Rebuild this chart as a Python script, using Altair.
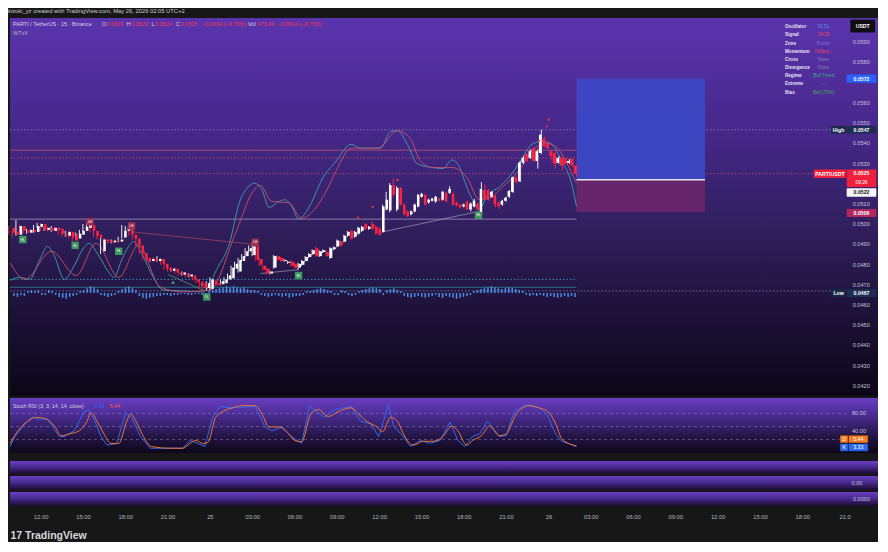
import altair as alt
import pandas as pd

FONT = "Liberation Sans"
W = 868
H_MAIN, H_STOCH, H_P2, H_P3, H_P4 = 378, 55, 13, 14, 14

# hours since 24 May 00:00 ; price ; stoch value
X_DOM = [9.83, 71.37]
P_DOM = [0.04150, 0.06020]
S_DOM = [-11.0, 115.6]
HIST_DOM = [-106, 283]

XS = alt.Scale(domain=X_DOM, nice=False, zero=False)
PY = alt.Scale(domain=P_DOM, nice=False, zero=False)
SY = alt.Scale(domain=S_DOM, nice=False, zero=False)
HS = alt.Scale(domain=HIST_DOM, nice=False, zero=False)

first_candle = 9.75   # 24 May 09:45
bar_step = 0.25       # 15-minute candles

# ---------------- candles (price x 1e-5) ----------------
opens = [4982,4962,4948,4991,4967,4958,4972,4962,4987,5001,
         4972,4982,4967,4982,4977,4953,4943,4962,4948,4929,
         4948,4967,4982,4996,4967,4948,4866,4924,4919,4910,
         4919,4914,4934,4967,4982,4948,4929,4895,4857,4833,
         4818,4828,4818,4828,4804,4785,4770,4780,4761,4751,
         4756,4742,4746,4727,4713,4708,4684,4679,4722,4708,
         4703,4708,4727,4732,4780,4766,4818,4842,4866,4847,
         4890,4828,4794,4780,4756,4785,4842,4833,4818,4809,
         4814,4804,4785,4799,4818,4838,4852,4881,4842,4862,
         4862,4833,4876,4890,4914,4914,4943,4967,4938,4953,
         4967,5001,4977,5001,4987,4977,4962,5073,5068,5193,
         5073,5179,5097,5063,5049,5063,5088,5136,5145,5107,
         5116,5112,5126,5121,5155,5155,5150,5107,5097,5088,
         5112,5073,5088,5102,5054,5169,5169,5136,5140,5107,
         5097,5116,5136,5160,5232,5212,5304,5347,5328,5376,
         5313,5352,5424,5400,5361,5352,5304,5328,5323,5304,
         5323,5290]
closes = [4958,4948,4991,4967,4958,4972,4962,4991,5001,4972,
          4982,4967,4982,4972,4953,4943,4962,4934,4919,4953,
          4967,4987,4996,4967,4943,4929,4924,4914,4910,4919,
          4914,4924,4967,4982,4948,4929,4895,4857,4828,4818,
          4828,4818,4828,4804,4780,4770,4780,4761,4751,4761,
          4742,4751,4727,4713,4694,4684,4708,4727,4703,4698,
          4718,4727,4746,4785,4804,4823,4842,4866,4881,4890,
          4823,4799,4775,4756,4766,4842,4823,4818,4823,4814,
          4794,4785,4804,4818,4838,4852,4871,4842,4866,4871,
          4842,4881,4886,4919,4895,4943,4962,4929,4962,4982,
          4987,4977,4987,4977,4953,4948,5088,5121,5193,5145,
          5179,5097,5049,5039,5063,5097,5145,5150,5097,5121,
          5126,5136,5116,5160,5112,5174,5097,5092,5083,5097,
          5073,5102,5116,5073,5174,5126,5121,5160,5097,5088,
          5116,5131,5164,5232,5208,5304,5328,5313,5361,5313,
          5361,5443,5385,5376,5337,5299,5328,5289,5299,5313,
          5289,5250]
highs = [4991,4967,5020,4996,4972,4977,4977,4996,5006,5006,
         4987,4987,4991,4987,4982,4962,4967,4967,4953,4958,
         4972,5001,5006,5011,4972,4953,4943,4929,4924,4924,
         4924,4938,4996,4991,4987,4953,4934,4900,4862,4838,
         4833,4838,4842,4833,4809,4790,4785,4785,4766,4766,
         4761,4756,4751,4732,4718,4718,4718,4737,4727,4713,
         4727,4737,4756,4794,4814,4833,4852,4881,4895,4905,
         4900,4833,4799,4785,4770,4847,4847,4838,4828,4818,
         4823,4809,4809,4823,4842,4857,4876,4890,4871,4876,
         4871,4886,4890,4924,4919,4948,4967,4972,4967,4987,
         4991,5006,4991,5015,4996,4987,5097,5160,5203,5227,
         5188,5184,5102,5068,5068,5102,5150,5155,5150,5126,
         5131,5140,5131,5164,5160,5188,5155,5112,5102,5102,
         5116,5107,5126,5107,5208,5198,5174,5164,5145,5112,
         5121,5136,5169,5236,5236,5313,5337,5352,5371,5381,
         5371,5467,5434,5410,5366,5361,5337,5337,5328,5323,
         5328,5294]
lows = [4948,4938,4943,4962,4953,4953,4958,4958,4982,4967,
        4967,4962,4962,4967,4948,4938,4938,4929,4914,4924,
        4943,4962,4977,4962,4938,4924,4852,4910,4905,4905,
        4910,4910,4929,4962,4943,4924,4890,4852,4823,4814,
        4814,4814,4814,4799,4775,4766,4766,4756,4746,4746,
        4737,4737,4722,4708,4684,4670,4674,4674,4698,4694,
        4698,4703,4722,4727,4775,4761,4814,4838,4862,4842,
        4818,4794,4770,4751,4751,4780,4818,4814,4814,4804,
        4790,4780,4775,4794,4814,4833,4847,4838,4838,4857,
        4838,4828,4871,4886,4890,4910,4938,4924,4934,4948,
        4962,4972,4972,4972,4948,4943,4958,5068,5059,5136,
        5063,5092,5044,5035,5044,5059,5083,5131,5092,5102,
        5112,5107,5112,5116,5107,5150,5092,5088,5078,5083,
        5068,5063,5083,5068,5044,5121,5116,5131,5083,5073,
        5092,5112,5131,5155,5203,5208,5299,5308,5323,5308,
        5275,5347,5381,5371,5313,5275,5299,5265,5294,5299,
        5280,5236]
hist = [-3,-4,-2,-3,2,3,2,3,-2,-2,
        3,2,-2,-4,-5,-6,-4,-3,-2,2,
        3,5,7,6,4,-2,-3,-4,-3,-2,
        2,4,6,7,5,3,-3,-5,-6,-5,
        -4,-3,-3,-2,-2,-3,-2,-2,-1,-1,
        -2,-2,-1,-1,-2,-3,2,3,4,5,
        6,7,6,7,6,5,6,4,3,3,
        2,-2,-3,-4,-3,-2,-3,-4,-3,-5,
        -4,-3,-3,-2,2,2,3,4,5,4,
        3,2,-2,-2,3,2,-2,-3,-2,2,
        3,4,5,6,5,4,-2,3,4,5,
        3,2,-3,-4,-5,-4,-3,-4,-5,-4,
        -3,-2,-4,-5,-3,-4,-5,-6,-5,-4,
        -3,-2,2,3,4,5,6,7,6,5,
        4,5,6,5,4,3,2,-2,-3,-2,
        -3,-2,-3,-4,-3,-4,-5,-4,-3,-4,
        -3,-4]

times = [first_candle + bar_step * i for i in range(len(closes))]
candles = pd.DataFrame({
    "h": times,
    "o": [v / 1e5 for v in opens],
    "c": [v / 1e5 for v in closes],
    "hi": [v / 1e5 for v in highs],
    "lo": [v / 1e5 for v in lows],
})
candles["d"] = ["up" if c >= o else "down" for o, c in zip(opens, closes)]
hist_df = pd.DataFrame({"h": times, "v": hist})

# ---------------- WT oscillator (drawn on the price scale) ----------------
wt1_h = [9.83,10.53,11.23,11.93,12.49,12.98,13.68,14.38,14.94,15.43,16.14,16.84,17.19,17.75,18.24,18.59,19.15,19.99,20.69,22.09,
         23.50,24.55,25.39,26.09,26.65,27.14,27.70,28.19,28.89,29.31,29.80,30.29,30.71,31.21,31.91,32.96,34.01,34.71,36.11,36.81,
         37.30,38.00,38.71,39.83,40.53,41.16,41.72,42.21,42.63,43.12,43.61,44.52,45.43,46.14,46.84,47.54,48.24,48.94,49.64,49.99]
wt1_v = [4722,4737,4727,4823,4890,4842,4727,4794,4871,4905,4842,4761,4737,4823,4890,4914,4857,4737,4674,4670,
         4665,4785,4905,5107,5179,5203,5169,5083,5112,5121,5088,5025,5049,5107,5217,5313,5395,5376,5376,5458,
         5462,5395,5299,5280,5275,5318,5280,5184,5121,5073,5136,5184,5251,5328,5395,5410,5395,5313,5203,5088]
wt2_h = [9.83,10.88,12.77,14.52,15.93,17.54,18.94,20.48,22.09,23.99,25.81,27.00,27.56,28.40,29.59,30.50,31.42,32.40,
         32.96,34.01,35.90,37.30,38.22,38.92,39.83,41.23,42.21,43.12,44.03,44.52,45.92,46.84,47.82,48.52,49.22,49.99]
wt2_v = [4809,4727,4866,4746,4905,4737,4895,4689,4665,4674,4953,5155,5193,5112,5107,5030,5073,5184,
         5265,5376,5376,5462,5424,5313,5280,5280,5232,5121,5136,5169,5265,5361,5400,5385,5313,5203]
wt1 = pd.DataFrame({"h": wt1_h, "p": [v / 1e5 for v in wt1_v]})
wt2 = pd.DataFrame({"h": wt2_h, "p": [v / 1e5 for v in wt2_v]})

# ---------------- Stoch RSI ----------------
d_h = [9.83,10.39,11.09,11.72,12.28,12.98,13.47,14.03,14.73,15.29,15.57,16.00,16.49,16.98,17.54,18.10,18.38,18.80,19.29,19.85,
       21.18,22.09,22.58,23.00,23.50,23.85,24.41,24.90,25.60,26.30,27.21,27.70,28.19,28.89,29.59,30.01,30.50,31.21,31.70,32.40,
       33.10,34.01,34.57,35.20,35.76,36.25,36.81,37.30,37.72,38.43,39.13,39.83,40.53,41.16,41.58,42.21,42.63,43.26,43.82,44.52,
       45.01,45.71,46.63,47.33,48.03,48.52,48.94,49.43,49.99]
d_v = [11,40,62,71,69,51,29,33,40,62,82,62,33,11,11,62,78,60,27,4,
       0,0,11,18,11,13,71,84,93,98,98,78,49,49,33,18,15,82,89,73,
       84,93,78,60,51,38,71,62,33,7,16,16,27,51,40,7,18,29,51,29,
       33,78,98,93,82,56,22,11,5.44]
k_h = [9.83,10.18,10.88,11.44,11.79,12.49,13.33,13.68,14.38,15.08,15.43,15.93,16.28,16.70,17.40,18.03,18.45,19.08,19.78,22.09,
       22.58,23.15,23.64,24.20,24.69,25.60,27.21,27.91,28.40,29.10,29.80,30.50,31.07,31.42,32.12,32.82,34.01,34.71,35.41,35.97,
       36.67,37.02,37.65,38.22,38.92,39.62,40.32,41.02,41.58,42.07,42.63,43.12,43.68,44.52,45.01,45.57,46.42,47.33,47.89,48.52,
       48.94,49.43,49.99]
k_v = [4,27,56,73,67,67,27,27,40,84,89,56,27,7,11,82,71,27,0,0,
       18,11,4,71,96,93,96,49,40,49,27,11,96,89,71,89,96,62,56,27,
       100,51,29,4,18,11,18,60,18,4,27,33,62,27,29,84,100,93,78,33,
       16,11,3.33]
stoch_d = pd.DataFrame({"h": d_h, "v": d_v})
stoch_k = pd.DataFrame({"h": k_h, "v": k_v})

# ---------------- annotations ----------------
tick_prices = [0.0590,0.0580,0.0560,0.0550,0.0540,0.0530,0.0510,0.0500,
               0.0490,0.0480,0.0470,0.0460,0.0450,0.0440,0.0430,0.0420]
time_ticks = [12,15,18,21,24,27,30,33,36,39,42,45,48,51,54,57,60,63,66,69]
time_labels = ["12:00","15:00","18:00","21:00","25","03:00","06:00","09:00","12:00","15:00",
               "18:00","21:00","26","03:00","06:00","09:00","12:00","15:00","18:00","21:0"]

solid_lines = pd.DataFrame({"p": [0.05366, 0.05025, 0.04688],
                            "h0": [9.83, 9.83, 9.83], "h1": [49.99, 49.99, 49.99],
                            "col": ["#c4526f", "#a999c8", "#2f8e9c"]})
dotted_lines = pd.DataFrame({"p": [0.05467, 0.05328, 0.05250, 0.04727, 0.04670],
                             "h0": [9.83] * 5, "h1": [68.05, 49.99, 66.82, 49.99, 68.05],
                             "col": ["#8d80b5", "#e0445f", "#c84a6a", "#3fa6c8", "#6f7fae"]})
pivot_lines = pd.DataFrame({"h0": [18.45, 27.60, 36.25, 21.04], "p0": [0.04962, 0.04756, 0.04962, 0.04751],
                            "h1": [27.21, 30.30, 43.05, 23.50], "p1": [0.04900, 0.04775, 0.05063, 0.04674],
                            "col": ["#a8455f", "#9a9ab0", "#9a9ab0", "#5aa070"]})
pivot_tags = pd.DataFrame({"h": [10.74, 14.45, 17.54, 23.78, 30.29, 43.05, 15.50, 18.45, 27.21],
                           "p": [0.04924, 0.04895, 0.04866, 0.04640, 0.04746, 0.05044, 0.05011, 0.04991, 0.04910],
                           "t": ["HL", "HL", "HL", "LL", "HL", "HL", "LH", "LH", "LH"],
                           "col": ["#3f9e5f"] * 6 + ["#a8304f"] * 3})
down_marks = pd.DataFrame({"h": [34.50, 35.55, 37.30, 47.33, 47.89, 48.03],
                           "p": [0.05030, 0.05083, 0.05217, 0.05410, 0.05482, 0.05515]})
up_marks = pd.DataFrame({"h": [21.39], "p": [0.04713]})

position = pd.DataFrame({"h0": [49.99, 49.99], "h1": [59.10, 59.10],
                         "p0": [0.0522, 0.0506], "p1": [0.0572, 0.0522],
                         "col": ["#3d49c7", "#6b2769"]})
entry = pd.DataFrame({"h0": [49.99], "h1": [59.10], "p": [0.0522]})

tags = pd.DataFrame({
    "t":   ["USDT", "0.0572", "High", "0.0547", "PARTIUSDT", "0.0525", "0.0522", "0.0506", "Low", "0.0467"],
    "h0":  [69.41, 69.15, 68.05, 69.15, 66.82, 69.15, 69.15, 69.15, 68.05, 69.15],
    "h1":  [71.16, 71.25, 69.10, 71.25, 69.10, 71.25, 71.25, 71.25, 69.10, 71.25],
    "p0":  [0.05948, 0.05700, 0.05448, 0.05448, 0.05228, 0.05184, 0.05136, 0.05035, 0.04640, 0.04640],
    "p1":  [0.06011, 0.05741, 0.05486, 0.05486, 0.05270, 0.05270, 0.05178, 0.05075, 0.04679, 0.04679],
    "tp":  [0.05980, 0.05720, 0.05467, 0.05467, 0.05249, 0.05252, 0.05157, 0.05055, 0.04660, 0.04660],
    "fill": ["#0d0d12", "#2962ff", "#1a2747", "#1e2d52", "#f0203c", "#f0203c", "#f4f4f6", "#b3275f", "#1a2747", "#1e2d52"],
    "tc":  ["#ffffff", "#ffffff", "#ffffff", "#ffffff", "#ffffff", "#ffffff", "#131313", "#ffffff", "#ffffff", "#ffffff"],
})
tags["hc"] = [(a + b) / 2 for a, b in zip(tags["h0"], tags["h1"])]
countdown = pd.DataFrame({"h": [70.20], "p": [0.05203], "t": ["09:26"]})

info_labels = ["Oscillator", "Signal", "Zone", "Momentum", "Cross", "Divergence", "Regime", "Extreme", "Bias"]
info_values = ["50.51", "34.23", "Bullish", "Falling ↓", "None", "None", "Bull Trend", "–", "Bull (75%)"]
info_colors = ["#5b8def", "#f0474f", "#7b6fd0", "#e6406a", "#8a80b0", "#8a80b0", "#3fae7a", "#8a80b0", "#4caf50"]

hdr_text = ["PARTI / TetherUS · 15 · Binance", "O", "0.0529", "H", "0.0529", "L", "0.0524", "C", "0.0525",
            "−0.0004 (−0.75%)", "Vol", "473.4K", "−0.0004 (−0.75%)"]
hdr_col = ["#d1d4dc", "#d1d4dc", "#f23645", "#d1d4dc", "#f23645", "#d1d4dc", "#f23645", "#d1d4dc", "#f23645",
           "#f23645", "#d1d4dc", "#f23645", "#f23645"]


def grad(stops):
    return alt.LinearGradient(gradient="linear",
                              stops=[alt.GradientStop(color=c, offset=o) for o, c in stops],
                              x1=0, x2=0, y1=0, y2=1)


def background(h, stops):
    return alt.Chart(alt.Data(values=[{}])).mark_rect(color=grad(stops)).encode(
        x=alt.value(0), x2=alt.value(W), y=alt.value(0), y2=alt.value(h))


def X(field):
    return alt.X(field, type="quantitative", scale=XS, axis=None)


def P(field):
    return alt.Y(field, type="quantitative", scale=PY, axis=None)


# ---------------- main panel ----------------
bg_main = background(H_MAIN, [(0, "#5b34ad"), (0.3, "#46288a"), (0.55, "#311f5e"), (0.8, "#1b1035"), (1, "#0c0717")])

pos_rect = alt.Chart(position).mark_rect(opacity=0.92).encode(
    x=X("h0"), x2="h1", y=P("p0"), y2="p1", color=alt.Color("col:N", scale=None))
entry_rule = alt.Chart(entry).mark_rule(color="#e6e6f2", strokeWidth=1.4).encode(x=X("h0"), x2="h1", y=P("p"))

solid_r = alt.Chart(solid_lines).mark_rule(strokeWidth=0.9, opacity=0.85).encode(
    x=X("h0"), x2="h1", y=P("p"), color=alt.Color("col:N", scale=None))
dotted_r = alt.Chart(dotted_lines).mark_rule(strokeWidth=1, strokeDash=[1.5, 2], opacity=0.85).encode(
    x=X("h0"), x2="h1", y=P("p"), color=alt.Color("col:N", scale=None))

hist_bars = alt.Chart(hist_df).mark_bar(size=1.5, color="#4a8fe6").encode(
    x=X("h"), y=alt.Y("v:Q", scale=HS, axis=None), y2=alt.datum(0))

wt1_line = alt.Chart(wt1).mark_line(color="#3c9fb2", strokeWidth=0.9, interpolate="monotone").encode(x=X("h"), y=P("p"))
wt2_line = alt.Chart(wt2).mark_line(color="#c9506a", strokeWidth=0.9, interpolate="monotone").encode(x=X("h"), y=P("p"))

piv = alt.Chart(pivot_lines).mark_rule(strokeWidth=0.9, opacity=0.8).encode(
    x=X("h0"), x2="h1", y=P("p0"), y2="p1", color=alt.Color("col:N", scale=None))

CC = alt.Color("d:N", scale=alt.Scale(domain=["up", "down"], range=["#ffffff", "#ff2340"]), legend=None)
wicks = alt.Chart(candles).mark_rule(strokeWidth=0.9).encode(x=X("h"), y=P("lo"), y2="hi", color=CC)
bodies = alt.Chart(candles).mark_bar(size=2.5).encode(x=X("h"), y=P("o"), y2="c", color=CC)

dmarks = alt.Chart(down_marks).mark_point(shape="triangle-down", filled=True, size=10, color="#e8354f", opacity=1).encode(
    x=X("h"), y=P("p"))
umarks = alt.Chart(up_marks).mark_point(shape="triangle-up", filled=True, size=12, color="#3fbf70", opacity=1).encode(
    x=X("h"), y=P("p"))
ptag_box = alt.Chart(pivot_tags).mark_square(size=55, opacity=0.95).encode(
    x=X("h"), y=P("p"), color=alt.Color("col:N", scale=None))
ptag_txt = alt.Chart(pivot_tags).mark_text(fontSize=3.2, color="#ffffff", font=FONT).encode(
    x=X("h"), y=P("p"), text="t:N")

price_lbl = alt.Chart(pd.DataFrame({"p": tick_prices})).mark_text(
    fontSize=5.6, color="#c6c2d6", font=FONT, align="center", baseline="middle").encode(
    x=alt.value(851.2), y=P("p"), text=alt.Text("p:Q", format=".4f"))

tag_box = alt.Chart(tags).mark_rect(cornerRadius=1).encode(
    x=X("h0"), x2="h1", y=P("p0"), y2="p1", color=alt.Color("fill:N", scale=None))
tag_txt = alt.Chart(tags).mark_text(fontSize=5.2, font=FONT, fontWeight="bold", baseline="middle").encode(
    x=X("hc"), y=P("tp"), text="t:N", color=alt.Color("tc:N", scale=None))
cd_txt = alt.Chart(countdown).mark_text(fontSize=4.8, font=FONT, color="#ffffff", baseline="middle").encode(
    x=X("h"), y=P("p"), text="t:N")

hdr_x = [3, 92, 96.5, 116.5, 121, 141.5, 145, 166, 170.5, 192, 238, 247.5, 268]
hdr_df = pd.DataFrame({"x": hdr_x, "y": [5.8] * len(hdr_x), "t": hdr_text, "c": hdr_col})
hdr = alt.Chart(hdr_df).mark_text(fontSize=5.5, font=FONT, align="left", baseline="middle").encode(
    x=alt.X("x:Q", scale=None), y=alt.Y("y:Q", scale=None), text="t:N", color=alt.Color("c:N", scale=None))
hdr2 = alt.Chart(alt.Data(values=[{"t": "WTxX ◌"}])).mark_text(
    fontSize=5.5, font=FONT, align="left", baseline="middle", color="#b2b5be").encode(
    x=alt.value(3), y=alt.value(14.6), text="t:N")

rows_y = [9.2, 17.4, 25.5, 33.7, 41.9, 50.0, 58.2, 66.4, 74.5]
info_df = pd.DataFrame({"y": rows_y, "l": info_labels, "v": info_values, "c": info_colors})
info_l = alt.Chart(info_df).mark_text(fontSize=4.6, font=FONT, fontWeight="bold", align="left",
                                      baseline="middle", color="#e6e3f2").encode(
    x=alt.value(775), y=alt.Y("y:Q", scale=None), text="l:N")
info_v = alt.Chart(info_df).mark_text(fontSize=4.6, font=FONT, align="center", baseline="middle").encode(
    x=alt.value(813.6), y=alt.Y("y:Q", scale=None), text="v:N", color=alt.Color("c:N", scale=None))

main = alt.layer(
    bg_main, solid_r, dotted_r, pos_rect, entry_rule, hist_bars, wt1_line, wt2_line, piv,
    wicks, bodies, dmarks, umarks, ptag_box, ptag_txt, price_lbl, tag_box, tag_txt, cd_txt,
    hdr, hdr2, info_l, info_v
).properties(width=W, height=H_MAIN).resolve_scale(x="independent", y="independent", color="independent")

# ---------------- stoch RSI panel ----------------
bg_st = background(H_STOCH, [(0, "#6a3dc2"), (0.3, "#4b2c94"), (0.7, "#231545"), (1, "#0d0719")])
levels = alt.Chart(pd.DataFrame({"v": [80, 50, 20], "h0": [9.83] * 3, "h1": [69.1] * 3})).mark_rule(
    strokeDash=[3, 3], strokeWidth=0.8, color="#9b92c6", opacity=0.6).encode(
    x=X("h0"), x2="h1", y=alt.Y("v:Q", scale=SY, axis=None))
k_line = alt.Chart(stoch_k).mark_line(color="#2f6bf0", strokeWidth=1).encode(
    x=X("h"), y=alt.Y("v:Q", scale=SY, axis=None))
d_line = alt.Chart(stoch_d).mark_line(color="#f0772f", strokeWidth=1, interpolate="monotone").encode(
    x=X("h"), y=alt.Y("v:Q", scale=SY, axis=None))
st_axis = alt.Chart(pd.DataFrame({"v": [80, 40]})).mark_text(
    fontSize=5.6, font=FONT, color="#c6c2d6", baseline="middle").encode(
    x=alt.value(849), y=alt.Y("v:Q", scale=SY, axis=None), text=alt.Text("v:Q", format=".2f"))
dk = pd.DataFrame({"t": ["D", "5.44", "K", "3.33"],
                   "h0": [68.67, 69.27, 68.67, 69.27], "h1": [69.27, 70.67, 69.27, 70.67],
                   "v0": [12, 12, -7, -7], "v1": [30, 30, 11, 11], "vc": [21, 21, 2, 2],
                   "fill": ["#f57c1f", "#f57c1f", "#2f6bf0", "#2f6bf0"]})
dk["hc"] = [(a + b) / 2 for a, b in zip(dk["h0"], dk["h1"])]
dk_box = alt.Chart(dk).mark_rect(stroke="#15101f", strokeWidth=0.5).encode(
    x=X("h0"), x2="h1", y=alt.Y("v0:Q", scale=SY, axis=None), y2="v1",
    color=alt.Color("fill:N", scale=None))
dk_txt = alt.Chart(dk).mark_text(fontSize=5.2, font=FONT, color="#ffffff", baseline="middle").encode(
    x=X("hc"), y=alt.Y("vc:Q", scale=SY, axis=None), text="t:N")
st_hdr_df = pd.DataFrame({"x": [3, 84, 99.8], "t": ["Stoch RSI (3, 3, 14, 14, close)", "3.33", "5.44"],
                          "c": ["#d1d4dc", "#2f6bf0", "#ff5a3c"]})
st_hdr = alt.Chart(st_hdr_df).mark_text(fontSize=5.3, font=FONT, align="left", baseline="middle").encode(
    x=alt.X("x:Q", scale=None), y=alt.value(7.7), text="t:N", color=alt.Color("c:N", scale=None))

stoch = alt.layer(bg_st, levels, k_line, d_line, st_axis, dk_box, dk_txt, st_hdr).properties(
    width=W, height=H_STOCH).resolve_scale(x="independent", y="independent", color="independent")

# ---------------- empty indicator panels ----------------
band = [(0, "#6b3ec4"), (0.45, "#4a2a90"), (1, "#180c2e")]
p2 = alt.layer(background(H_P2, band),
               alt.Chart(alt.Data(values=[{"t": ""}])).mark_text().encode(
                   x=alt.value(0), y=alt.value(0), text="t:N")).properties(width=W, height=H_P2)
p3 = alt.layer(background(H_P3, band),
               alt.Chart(alt.Data(values=[{"t": "0.00"}])).mark_text(
                   fontSize=5.6, font=FONT, color="#c6c2d6", baseline="middle").encode(
                   x=alt.value(847), y=alt.value(7), text="t:N")).properties(width=W, height=H_P3)

label_expr = "[" + ",".join("'%s'" % s for s in time_labels) + "][round((datum.value-12)/3)]"
x_axis = alt.Axis(values=time_ticks, labelExpr=label_expr, domain=False, ticks=False, grid=False,
                  labelColor="#b2b5be", labelFontSize=5.8, labelFont=FONT, labelPadding=7,
                  labelFlush=False, labelOverlap=False,
                  title="17 TradingView", titleAnchor="start", titleAlign="left", titleFontSize=10.5,
                  titleFontWeight="bold", titleColor="#d8d8dc", titleFont=FONT, titlePadding=12)
p4 = alt.layer(
    background(H_P4, band),
    alt.Chart(pd.DataFrame({"h": [70.2], "t": ["0.0000"]})).mark_text(
        fontSize=5.6, font=FONT, color="#c6c2d6", baseline="middle").encode(
        x=alt.X("h:Q", scale=XS, axis=x_axis), y=alt.value(7), text="t:N")
).properties(width=W, height=H_P4)

chart = alt.vconcat(main, stoch, p2, p3, p4, spacing=2).properties(
    title=alt.TitleParams("kizoki_yz created with TradingView.com, May 26, 2026 02:05 UTC+2",
                          anchor="start", fontSize=5.8, color="#cfcfcf", font=FONT,
                          fontWeight="normal", offset=4),
    padding=0,
).configure(background="#171717").configure_view(stroke=None)

chart.save("out.html", embed_options={"renderer": "svg", "actions": False})
